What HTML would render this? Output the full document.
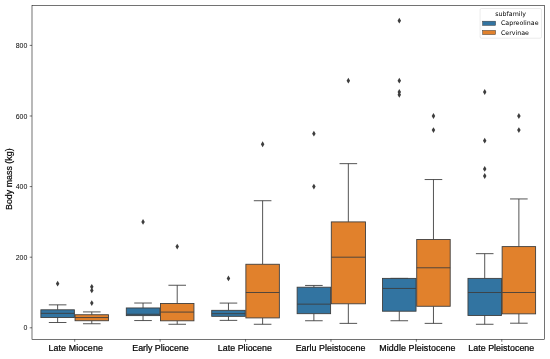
<!DOCTYPE html>
<html><head><meta charset="utf-8"><title>Body mass boxplot</title>
<style>html,body{margin:0;padding:0;background:#fff}svg{display:block}</style></head>
<body>
<svg width="550" height="359" viewBox="0 0 550 359">
<rect width="550" height="359" fill="#fff"/>
<g stroke="#3d3d3d" stroke-width="0.88" fill="none">
<path d="M57.63 317.56V322.50M57.63 309.80V304.85M48.83 322.50H66.43M48.83 304.85H66.43"/>
<rect x="40.88" y="309.80" width="33.48" height="7.77" fill="#3274a1"/>
<path d="M40.88 313.33H74.37"/>
</g>
<path d="M57.63 280.77L59.38 283.67L57.63 286.57L55.88 283.67Z" fill="#3d3d3d"/>
<g stroke="#3d3d3d" stroke-width="0.88" fill="none">
<path d="M91.79 320.74V323.74M91.79 314.74V311.91M82.99 323.74H100.59M82.99 311.91H100.59"/>
<rect x="75.05" y="314.74" width="33.48" height="6.00" fill="#e1812c"/>
<path d="M75.05 317.56H108.53"/>
</g>
<path d="M91.79 300.19L93.54 303.09L91.79 305.99L90.04 303.09Z" fill="#3d3d3d"/>
<path d="M91.79 287.48L93.54 290.38L91.79 293.28L90.04 290.38Z" fill="#3d3d3d"/>
<path d="M91.79 283.95L93.54 286.85L91.79 289.75L90.04 286.85Z" fill="#3d3d3d"/>
<g stroke="#3d3d3d" stroke-width="0.88" fill="none">
<path d="M143.04 315.62V320.56M143.04 307.96V303.02M134.24 320.56H151.84M134.24 303.02H151.84"/>
<rect x="126.30" y="307.96" width="33.48" height="7.66" fill="#3274a1"/>
<path d="M126.30 314.28H159.78"/>
</g>
<path d="M143.04 219.00L144.79 221.90L143.04 224.80L141.29 221.90Z" fill="#3d3d3d"/>
<g stroke="#3d3d3d" stroke-width="0.88" fill="none">
<path d="M177.21 320.81V324.27M177.21 303.44V285.26M168.41 324.27H186.01M168.41 285.26H186.01"/>
<rect x="160.47" y="303.44" width="33.48" height="17.37" fill="#e1812c"/>
<path d="M160.47 312.09H193.95"/>
</g>
<path d="M177.21 243.71L178.96 246.61L177.21 249.51L175.46 246.61Z" fill="#3d3d3d"/>
<g stroke="#3d3d3d" stroke-width="0.88" fill="none">
<path d="M228.46 316.33V320.39M228.46 310.33V303.09M219.66 320.39H237.26M219.66 303.09H237.26"/>
<rect x="211.72" y="310.33" width="33.48" height="6.00" fill="#3274a1"/>
<path d="M211.72 313.68H245.20"/>
</g>
<path d="M228.46 275.48L230.21 278.38L228.46 281.28L226.71 278.38Z" fill="#3d3d3d"/>
<g stroke="#3d3d3d" stroke-width="0.88" fill="none">
<path d="M262.62 317.92V324.27M262.62 264.26V200.72M253.82 324.27H271.43M253.82 200.72H271.43"/>
<rect x="245.88" y="264.26" width="33.48" height="53.66" fill="#e1812c"/>
<path d="M245.88 292.50H279.37"/>
</g>
<path d="M262.62 141.33L264.38 144.23L262.62 147.13L260.88 144.23Z" fill="#3d3d3d"/>
<g stroke="#3d3d3d" stroke-width="0.88" fill="none">
<path d="M313.88 313.68V320.74M313.88 287.20V285.44M305.08 320.74H322.68M305.08 285.44H322.68"/>
<rect x="297.13" y="287.20" width="33.48" height="26.48" fill="#3274a1"/>
<path d="M297.13 304.15H330.62"/>
</g>
<path d="M313.88 183.70L315.63 186.60L313.88 189.50L312.13 186.60Z" fill="#3d3d3d"/>
<path d="M313.88 130.74L315.63 133.64L313.88 136.54L312.13 133.64Z" fill="#3d3d3d"/>
<g stroke="#3d3d3d" stroke-width="0.88" fill="none">
<path d="M348.34 303.80V323.39M348.34 221.90V163.65M339.54 323.39H357.14M339.54 163.65H357.14"/>
<rect x="331.30" y="221.90" width="34.18" height="81.90" fill="#e1812c"/>
<path d="M331.30 257.20H365.48"/>
</g>
<path d="M348.34 77.79L350.09 80.69L348.34 83.59L346.59 80.69Z" fill="#3d3d3d"/>
<g stroke="#3d3d3d" stroke-width="0.88" fill="none">
<path d="M399.29 311.21V320.74M399.29 278.38V278.38M390.49 320.74H408.09M390.49 278.38H408.09"/>
<rect x="382.55" y="278.38" width="33.48" height="32.83" fill="#3274a1"/>
<path d="M382.55 288.44H416.03"/>
</g>
<path d="M399.29 91.91L401.04 94.81L399.29 97.71L397.54 94.81Z" fill="#3d3d3d"/>
<path d="M399.29 89.09L401.04 91.99L399.29 94.89L397.54 91.99Z" fill="#3d3d3d"/>
<path d="M399.29 77.79L401.04 80.69L399.29 83.59L397.54 80.69Z" fill="#3d3d3d"/>
<path d="M399.29 17.78L401.04 20.68L399.29 23.58L397.54 20.68Z" fill="#3d3d3d"/>
<g stroke="#3d3d3d" stroke-width="0.88" fill="none">
<path d="M433.46 306.27V323.39M433.46 239.55V179.54M424.66 323.39H442.26M424.66 179.54H442.26"/>
<rect x="416.72" y="239.55" width="33.48" height="66.72" fill="#e1812c"/>
<path d="M416.72 267.79H450.20"/>
</g>
<path d="M433.46 127.21L435.21 130.11L433.46 133.01L431.71 130.11Z" fill="#3d3d3d"/>
<path d="M433.46 113.09L435.21 115.99L433.46 118.89L431.71 115.99Z" fill="#3d3d3d"/>
<g stroke="#3d3d3d" stroke-width="0.88" fill="none">
<path d="M484.71 315.44V324.27M484.71 278.38V253.67M475.91 324.27H493.51M475.91 253.67H493.51"/>
<rect x="467.97" y="278.38" width="33.48" height="37.07" fill="#3274a1"/>
<path d="M467.97 292.50H501.45"/>
</g>
<path d="M484.71 173.11L486.46 176.01L484.71 178.91L482.96 176.01Z" fill="#3d3d3d"/>
<path d="M484.71 166.05L486.46 168.95L484.71 171.85L482.96 168.95Z" fill="#3d3d3d"/>
<path d="M484.71 137.80L486.46 140.70L484.71 143.60L482.96 140.70Z" fill="#3d3d3d"/>
<path d="M484.71 89.09L486.46 91.99L484.71 94.89L482.96 91.99Z" fill="#3d3d3d"/>
<g stroke="#3d3d3d" stroke-width="0.88" fill="none">
<path d="M518.88 313.86V323.21M518.88 246.61V198.95M510.07 323.21H527.67M510.07 198.95H527.67"/>
<rect x="502.13" y="246.61" width="33.48" height="67.25" fill="#e1812c"/>
<path d="M502.13 292.50H535.62"/>
</g>
<path d="M518.88 127.21L520.62 130.11L518.88 133.01L517.12 130.11Z" fill="#3d3d3d"/>
<path d="M518.88 113.09L520.62 115.99L518.88 118.89L517.12 115.99Z" fill="#3d3d3d"/>
<rect x="32.0" y="5.5" width="512.5" height="333.95" fill="none" stroke="#000" stroke-width="0.55"/>
<g stroke="#000" stroke-width="0.55">
<path d="M29.70 327.80H32.0"/>
<path d="M29.70 257.20H32.0"/>
<path d="M29.70 186.60H32.0"/>
<path d="M29.70 115.99H32.0"/>
<path d="M29.70 45.39H32.0"/>
<path d="M74.71 339.45V341.75"/>
<path d="M160.12 339.45V341.75"/>
<path d="M245.54 339.45V341.75"/>
<path d="M330.96 339.45V341.75"/>
<path d="M416.38 339.45V341.75"/>
<path d="M501.79 339.45V341.75"/>
</g>
<g font-family="'Liberation Sans', Arial, sans-serif" fill="#000">
<text x="27.40" y="330.35" font-size="7.0" text-anchor="end">0</text>
<text x="27.40" y="259.75" font-size="7.0" text-anchor="end">200</text>
<text x="27.40" y="189.15" font-size="7.0" text-anchor="end">400</text>
<text x="27.40" y="118.54" font-size="7.0" text-anchor="end">600</text>
<text x="27.40" y="47.94" font-size="7.0" text-anchor="end">800</text>
<text x="48.40" y="350.8" font-size="8.85" stroke="#000" stroke-width="0.22" textLength="54.46" lengthAdjust="spacing">Late Miocene</text>
<text x="132.26" y="350.8" font-size="8.85" stroke="#000" stroke-width="0.22" textLength="56.53" lengthAdjust="spacing">Early Pliocene</text>
<text x="217.74" y="350.8" font-size="8.85" stroke="#000" stroke-width="0.22" textLength="54.19" lengthAdjust="spacing">Late Pliocene</text>
<text x="295.64" y="350.8" font-size="8.85" stroke="#000" stroke-width="0.22" textLength="69.73" lengthAdjust="spacing">Earlu Pleistocene</text>
<text x="379.26" y="350.8" font-size="8.85" stroke="#000" stroke-width="0.22" textLength="76.28" lengthAdjust="spacing">Middle Pleistocene</text>
<text x="468.29" y="350.8" font-size="8.85" stroke="#000" stroke-width="0.22" textLength="65.91" lengthAdjust="spacing">Late Pleistocene</text>
<text transform="translate(12.2 179.2) rotate(-90)" font-size="8.9" stroke="#000" stroke-width="0.2" text-anchor="middle">Body mass (kg)</text>
</g>
<rect x="480.1" y="8.5" width="61.4" height="29.7" rx="1.3" fill="#fff" fill-opacity="0.8" stroke="#ccc" stroke-opacity="0.8" stroke-width="0.5"/>
<g font-family="'DejaVu Sans', sans-serif" font-size="6.3" fill="#000">
<text x="510.7" y="16" text-anchor="middle">subfamily</text>
<text x="500.9" y="25.4">Capreolinae</text>
<text x="500.9" y="34.8">Cervinae</text>
</g>
<rect x="482.6" y="21.2" width="13" height="4.2" fill="#3274a1" stroke="#3d3d3d" stroke-width="0.5"/>
<rect x="482.6" y="30.4" width="13" height="4.2" fill="#e1812c" stroke="#3d3d3d" stroke-width="0.5"/>
</svg>
</body></html>
